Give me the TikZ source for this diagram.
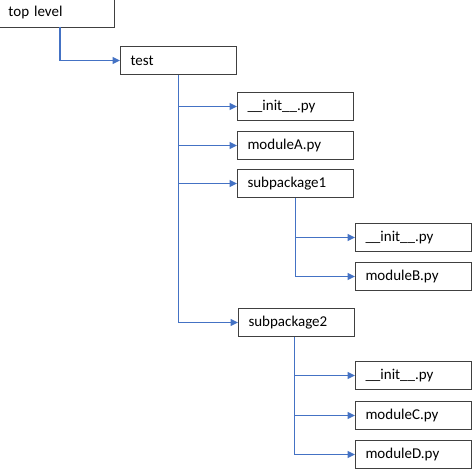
\documentclass[tikz,border=0pt]{standalone}
\usepackage{fontspec}
\setmainfont{Carlito}
\usetikzlibrary{arrows.meta}
\definecolor{lineblue}{HTML}{4472C4}
\tikzset{
  box/.style={draw=black!75, line width=1pt, fill=white, rectangle, anchor=north west,
    minimum height=28pt, text width=96pt, inner xsep=10pt, align=left,
    font=\fontsize{15pt}{17pt}\selectfont},
  conn/.style={draw=lineblue, line width=1.6pt, -{Triangle[length=7.5pt,width=7pt]}}
}
\begin{document}
\begin{tikzpicture}[x=1pt,y=-1pt]
\useasboundingbox (0,0) rectangle (474,470);
\begin{scope}
\clip (0,0) rectangle (474,470);
\node[box, minimum height=30pt] (top) at (-2,-3) {top level};
\end{scope}
\node[box] (test)  at (120,46) {test};
\node[box] (init1) at (237,92) {\_\_init\_\_.py};
\node[box] (modA)  at (237,131) {moduleA.py};
\node[box] (sub1)  at (237,169) {subpackage1};
\node[box] (init2) at (355,223) {\_\_init\_\_.py};
\node[box] (modB)  at (355,262) {moduleB.py};
\node[box] (sub2)  at (238,308) {subpackage2};
\node[box] (init3) at (355,361) {\_\_init\_\_.py};
\node[box] (modC)  at (355,401) {moduleC.py};
\node[box] (modD)  at (355,440) {moduleD.py};
\coordinate (tl) at (60,27);
\draw[conn] (tl) |- (test.west);
\draw[conn] (test.south) |- (sub2.west);
\draw[conn] (test.south |- init1.west) -- (init1.west);
\draw[conn] (test.south |- modA.west) -- (modA.west);
\draw[conn] (test.south |- sub1.west) -- (sub1.west);
\draw[conn] (sub1.south) |- (modB.west);
\draw[conn] (sub1.south |- init2.west) -- (init2.west);
\draw[conn] ([xshift=-2pt]sub2.south) |- (modD.west);
\draw[conn] ([xshift=-2pt]sub2.south |- init3.west) -- (init3.west);
\draw[conn] ([xshift=-2pt]sub2.south |- modC.west) -- (modC.west);
\end{tikzpicture}
\end{document}
